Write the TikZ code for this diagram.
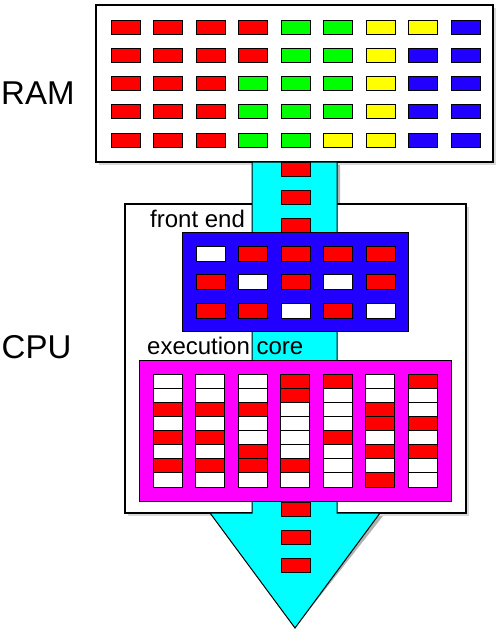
\documentclass[tikz,border=0pt]{standalone}
\usepackage{fontspec}
\setmainfont{Liberation Sans}
\usetikzlibrary{shadows}
\definecolor{r}{HTML}{FF0000}
\definecolor{g}{HTML}{00FF00}
\definecolor{y}{HTML}{FFFF00}
\definecolor{b}{HTML}{2200FF}
\definecolor{w}{HTML}{FFFFFF}
\definecolor{m}{HTML}{FF00FF}
\definecolor{c}{HTML}{00FFFF}
\tikzset{
  box/.style={draw,line width=1.3pt,inner sep=0pt},
  shade/.style={drop shadow={opacity=.3,shadow xshift=3pt,shadow yshift=-3pt}},
  bit/.style={draw,line width=0.9pt,inner sep=0pt,minimum width=29pt,minimum height=14pt},
  big/.style={font=\fontsize{33}{40}\selectfont,inner sep=0pt},
  lbl/.style={font=\fontsize{24}{29}\selectfont,inner sep=0pt},
}

\begin{document}
\begin{tikzpicture}[x=1pt,y=-1pt]
\useasboundingbox (0,0) rectangle (502,640);
% memory
\node[box,shade,fill=white,minimum width=397pt,minimum height=157pt] (ram) at (294.5,83.5) {};
\foreach \row [count=\j from 0] in {{r,r,r,r,g,g,y,y,b},{r,r,r,r,g,g,y,b,b},
    {r,r,r,g,g,g,y,b,b},{r,r,r,g,g,g,y,b,b},{r,r,r,g,g,y,y,b,b}}
  \foreach \c [count=\i from 0] in \row
    \node[bit,fill=\c] (ram-\i-\j) at (125.5+42.5*\i,27+28.25*\j) {};
% processor and the stream through it
\coordinate (tip) at (295,628);
\fill[black,opacity=.3,shift={(3,3)}] (252,162) -- (252,513) -- (210,513) -- (tip)
  -- (380,513) -- (337,513) -- (337,162) -- cycle;
\node[box,shade,fill=white,minimum width=341pt,minimum height=309pt] (cpu) at (295.5,358.5) {};
\draw[line width=1pt,fill=c] (252,162) -- (252,513) -- (210,513) -- (tip)
  -- (380,513) -- (337,513) -- (337,162) -- cycle;
\foreach \y [count=\k] in {162,190,218,502,530,558}
  \node[bit,fill=r,anchor=north] (flow-\k) at (295.5,\y) {};
% front end
\node[draw,line width=1pt,fill=b,minimum width=226pt,minimum height=99pt] (fe) at (295,281.5) {};
\foreach \row [count=\j from 0] in {{w,r,r,r,r},{r,w,r,w,r},{r,r,w,r,w}}
  \foreach \c [count=\i from 0] in \row
    \node[bit,fill=\c,minimum height=15pt] (fe-\i-\j) at (210.5+42.5*\i,253.5+28.5*\j) {};
% execution core
\node[draw,line width=1pt,fill=m,minimum width=312pt,minimum height=141pt] (ex) at (295,430.5) {};
\foreach \col [count=\i from 0] in {{w,w,r,w,r,w,r,w},{w,w,r,w,r,w,r,w},{w,w,r,w,w,r,r,w},
    {r,r,w,w,w,w,r,w},{r,w,w,w,r,w,w,w},{w,w,r,r,w,r,w,r},{r,w,w,r,w,r,w,w}}
  \foreach \c [count=\j from 0] in \col
    \node[bit,fill=\c,minimum height=14.125pt] (ex-\i-\j) at (167.5+42.5*\i,381.06+14.125*\j) {};
% labels
\node[lbl,anchor=base west] (fe-label) at (150,227) {front end};
\node[lbl,anchor=base west] (ex-label) at (147,354) {execution core};
\node[big,anchor=base west] (ram-label) at (1,104) {RAM};
\node[big,anchor=base west] (cpu-label) at (1.5,358) {CPU};
\end{tikzpicture}
\end{document}
